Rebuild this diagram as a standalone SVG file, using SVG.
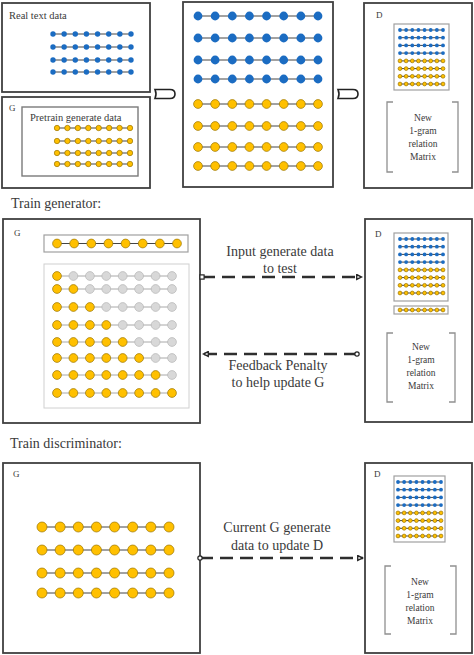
<svg xmlns="http://www.w3.org/2000/svg" width="474" height="655" viewBox="0 0 474 655">
<style>
.box{fill:#fff;stroke:#404040;stroke-width:1.8}
.mbox{fill:#fff;stroke:#a0a0a0;stroke-width:1.2}
.ibox{fill:#fff;stroke:#7a7a7a;stroke-width:1.4}
.gbox{fill:#fff;stroke:#d0d0d0;stroke-width:1}
.brk{fill:none;stroke:#909090;stroke-width:1.3}
.b{fill:#1b6cc2}
.o{fill:#ffc000;stroke:#9a7400;stroke-width:0.7}
.g{fill:#d8d8d8;stroke:#b4b4b4;stroke-width:0.7}
.cn{stroke:#444;stroke-width:1}
.cg{stroke:#a8a8a8;stroke-width:1}
.t{font-family:"Liberation Serif",serif;fill:#3a3a3a}
.lab{font-size:10.5px}
.sm{font-size:9px}
.mx{font-size:9.5px;text-anchor:middle}
.ttl{font-size:14px}
.al{font-size:14px;text-anchor:middle}
.sym{fill:#fff;stroke:#222;stroke-width:1.6}
.dash{fill:none;stroke:#2e2e2e;stroke-width:2.5;stroke-dasharray:13 7}
</style>
<defs>
<g id="r1b"><line class="cn" x1="0" y1="0" x2="78" y2="0"/><circle class="b" cx="0" cy="0" r="2.7"/><circle class="b" cx="11.14" cy="0" r="2.7"/><circle class="b" cx="22.29" cy="0" r="2.7"/><circle class="b" cx="33.43" cy="0" r="2.7"/><circle class="b" cx="44.57" cy="0" r="2.7"/><circle class="b" cx="55.71" cy="0" r="2.7"/><circle class="b" cx="66.86" cy="0" r="2.7"/><circle class="b" cx="78" cy="0" r="2.7"/></g>
<g id="r1o"><line class="cn" x1="0" y1="0" x2="73" y2="0"/><circle class="o" cx="0" cy="0" r="2.7"/><circle class="o" cx="10.43" cy="0" r="2.7"/><circle class="o" cx="20.86" cy="0" r="2.7"/><circle class="o" cx="31.29" cy="0" r="2.7"/><circle class="o" cx="41.71" cy="0" r="2.7"/><circle class="o" cx="52.14" cy="0" r="2.7"/><circle class="o" cx="62.57" cy="0" r="2.7"/><circle class="o" cx="73" cy="0" r="2.7"/></g>
<g id="r2b"><line class="cn" x1="0" y1="0" x2="120" y2="0"/><circle class="b" cx="0" cy="0" r="4.4"/><circle class="b" cx="17.14" cy="0" r="4.4"/><circle class="b" cx="34.29" cy="0" r="4.4"/><circle class="b" cx="51.43" cy="0" r="4.4"/><circle class="b" cx="68.57" cy="0" r="4.4"/><circle class="b" cx="85.71" cy="0" r="4.4"/><circle class="b" cx="102.86" cy="0" r="4.4"/><circle class="b" cx="120" cy="0" r="4.4"/></g>
<g id="r2o"><line class="cn" x1="0" y1="0" x2="120" y2="0"/><circle class="o" cx="0" cy="0" r="4.4"/><circle class="o" cx="17.14" cy="0" r="4.4"/><circle class="o" cx="34.29" cy="0" r="4.4"/><circle class="o" cx="51.43" cy="0" r="4.4"/><circle class="o" cx="68.57" cy="0" r="4.4"/><circle class="o" cx="85.71" cy="0" r="4.4"/><circle class="o" cx="102.86" cy="0" r="4.4"/><circle class="o" cx="120" cy="0" r="4.4"/></g>
<g id="r3b"><line class="cn" x1="0" y1="0" x2="43" y2="0" stroke-width="0.6"/><circle class="b" cx="0" cy="0" r="1.9"/><circle class="b" cx="6.14" cy="0" r="1.9"/><circle class="b" cx="12.29" cy="0" r="1.9"/><circle class="b" cx="18.43" cy="0" r="1.9"/><circle class="b" cx="24.57" cy="0" r="1.9"/><circle class="b" cx="30.71" cy="0" r="1.9"/><circle class="b" cx="36.86" cy="0" r="1.9"/><circle class="b" cx="43" cy="0" r="1.9"/></g>
<g id="r3o"><line class="cn" x1="0" y1="0" x2="43" y2="0" stroke-width="0.6"/><circle class="o" cx="0" cy="0" r="1.9"/><circle class="o" cx="6.14" cy="0" r="1.9"/><circle class="o" cx="12.29" cy="0" r="1.9"/><circle class="o" cx="18.43" cy="0" r="1.9"/><circle class="o" cx="24.57" cy="0" r="1.9"/><circle class="o" cx="30.71" cy="0" r="1.9"/><circle class="o" cx="36.86" cy="0" r="1.9"/><circle class="o" cx="43" cy="0" r="1.9"/></g>
<g id="r4o"><line class="cn" x1="0" y1="0" x2="127" y2="0"/><circle class="o" cx="0" cy="0" r="5"/><circle class="o" cx="18.14" cy="0" r="5"/><circle class="o" cx="36.29" cy="0" r="5"/><circle class="o" cx="54.43" cy="0" r="5"/><circle class="o" cx="72.57" cy="0" r="5"/><circle class="o" cx="90.71" cy="0" r="5"/><circle class="o" cx="108.86" cy="0" r="5"/><circle class="o" cx="127" cy="0" r="5"/></g>
<g id="mat"><use href="#r3b" x="0" y="0"/><use href="#r3b" x="0" y="7.7"/><use href="#r3b" x="0" y="15.4"/><use href="#r3b" x="0" y="23.1"/><use href="#r3o" x="0" y="30.9"/><use href="#r3o" x="0" y="38.6"/><use href="#r3o" x="0" y="46.3"/><use href="#r3o" x="0" y="54"/></g>
<path id="symb" d="M0,0 H15 Q20,0 20,4.5 Q20,9 15,9 H0 Q2,4.5 0,0 Z"/>
<marker id="tri" viewBox="0 0 10 10" refX="9" refY="5" markerWidth="7" markerHeight="7" markerUnits="userSpaceOnUse" orient="auto"><path d="M1.5,1.5 L8.5,5 L1.5,8.5 Z" fill="#fff" stroke="#222" stroke-width="2"/></marker>
<marker id="circ" viewBox="0 0 10 10" refX="5" refY="5" markerWidth="6" markerHeight="6" markerUnits="userSpaceOnUse" orient="auto"><circle cx="5" cy="5" r="3.6" fill="#fff" stroke="#222" stroke-width="2"/></marker>
<marker id="sq" viewBox="0 0 10 10" refX="5" refY="5" markerWidth="6" markerHeight="6" markerUnits="userSpaceOnUse" orient="auto"><rect x="1.5" y="1.5" width="7" height="7" fill="#fff" stroke="#222" stroke-width="2"/></marker>
</defs>
<rect width="474" height="655" fill="#fff"/>

<g id="node-real">
<rect class="box" x="2" y="3" width="148" height="89"/>
<text class="t lab" x="9" y="19">Real text data</text>
<use href="#r1b" x="53" y="34"/><use href="#r1b" x="53" y="47"/><use href="#r1b" x="53" y="60"/><use href="#r1b" x="53" y="72"/>
</g>
<g id="node-g-pretrain">
<rect class="box" x="2" y="97" width="148" height="91"/>
<text class="t sm" x="9" y="111">G</text>
<rect class="ibox" x="22" y="107" width="116" height="69"/>
<text class="t lab" x="30" y="121">Pretrain generate data</text>
<use href="#r1o" x="57" y="128"/><use href="#r1o" x="57" y="141"/><use href="#r1o" x="57" y="153"/><use href="#r1o" x="57" y="164"/>
</g>
<g id="node-mix">
<rect class="box" x="183" y="2" width="150" height="185"/>
<use href="#r2b" x="198" y="16"/><use href="#r2b" x="198" y="38"/><use href="#r2b" x="198" y="60"/><use href="#r2b" x="198" y="79"/>
<use href="#r2o" x="198" y="104"/><use href="#r2o" x="198" y="126"/><use href="#r2o" x="198" y="147"/><use href="#r2o" x="198" y="166"/>
</g>
<g id="node-d1">
<rect class="box" x="364" y="3" width="108" height="185"/>
<text class="t sm" x="376" y="18">D</text>
<rect class="mbox" x="394" y="24" width="55" height="66"/>
<use href="#mat" x="400" y="30"/>
<path class="brk" d="M393,102 H387 V172 H393 M452,102 H458 V172 H452"/>
<text class="t mx" x="423" y="121">New</text>
<text class="t mx" x="423" y="134">1-gram</text>
<text class="t mx" x="423" y="147">relation</text>
<text class="t mx" x="423" y="160">Matrix</text>
</g>

<text class="t ttl" x="11" y="208">Train generator:</text>

<g id="node-g2">
<rect class="box" x="3" y="219" width="197" height="204"/>
<text class="t sm" x="14" y="236">G</text>
<rect class="mbox" x="44" y="235" width="144" height="17"/>
<use href="#r2o" x="57" y="243.5"/>
<rect class="gbox" x="44" y="264" width="145" height="144"/>
<g>
<line class="cg" x1="57" y1="276" x2="172" y2="276"/><line class="cg" x1="57" y1="289" x2="172" y2="289"/><line class="cg" x1="57" y1="307" x2="172" y2="307"/><line class="cg" x1="57" y1="325" x2="172" y2="325"/><line class="cg" x1="57" y1="342" x2="172" y2="342"/><line class="cg" x1="57" y1="358" x2="172" y2="358"/><line class="cg" x1="57" y1="375" x2="172" y2="375"/><line class="cg" x1="57" y1="393" x2="172" y2="393"/>
<circle class="o" cx="57" cy="276" r="4.4"/><circle class="g" cx="73.4" cy="276" r="4.4"/><circle class="g" cx="89.9" cy="276" r="4.4"/><circle class="g" cx="106.3" cy="276" r="4.4"/><circle class="g" cx="122.7" cy="276" r="4.4"/><circle class="g" cx="139.1" cy="276" r="4.4"/><circle class="g" cx="155.6" cy="276" r="4.4"/><circle class="g" cx="172" cy="276" r="4.4"/>
<circle class="o" cx="57" cy="289" r="4.4"/><circle class="o" cx="73.4" cy="289" r="4.4"/><circle class="g" cx="89.9" cy="289" r="4.4"/><circle class="g" cx="106.3" cy="289" r="4.4"/><circle class="g" cx="122.7" cy="289" r="4.4"/><circle class="g" cx="139.1" cy="289" r="4.4"/><circle class="g" cx="155.6" cy="289" r="4.4"/><circle class="g" cx="172" cy="289" r="4.4"/>
<circle class="o" cx="57" cy="307" r="4.4"/><circle class="o" cx="73.4" cy="307" r="4.4"/><circle class="o" cx="89.9" cy="307" r="4.4"/><circle class="g" cx="106.3" cy="307" r="4.4"/><circle class="g" cx="122.7" cy="307" r="4.4"/><circle class="g" cx="139.1" cy="307" r="4.4"/><circle class="g" cx="155.6" cy="307" r="4.4"/><circle class="g" cx="172" cy="307" r="4.4"/>
<circle class="o" cx="57" cy="325" r="4.4"/><circle class="o" cx="73.4" cy="325" r="4.4"/><circle class="o" cx="89.9" cy="325" r="4.4"/><circle class="o" cx="106.3" cy="325" r="4.4"/><circle class="g" cx="122.7" cy="325" r="4.4"/><circle class="g" cx="139.1" cy="325" r="4.4"/><circle class="g" cx="155.6" cy="325" r="4.4"/><circle class="g" cx="172" cy="325" r="4.4"/>
<circle class="o" cx="57" cy="342" r="4.4"/><circle class="o" cx="73.4" cy="342" r="4.4"/><circle class="o" cx="89.9" cy="342" r="4.4"/><circle class="o" cx="106.3" cy="342" r="4.4"/><circle class="o" cx="122.7" cy="342" r="4.4"/><circle class="g" cx="139.1" cy="342" r="4.4"/><circle class="g" cx="155.6" cy="342" r="4.4"/><circle class="g" cx="172" cy="342" r="4.4"/>
<circle class="o" cx="57" cy="358" r="4.4"/><circle class="o" cx="73.4" cy="358" r="4.4"/><circle class="o" cx="89.9" cy="358" r="4.4"/><circle class="o" cx="106.3" cy="358" r="4.4"/><circle class="o" cx="122.7" cy="358" r="4.4"/><circle class="o" cx="139.1" cy="358" r="4.4"/><circle class="g" cx="155.6" cy="358" r="4.4"/><circle class="g" cx="172" cy="358" r="4.4"/>
<circle class="o" cx="57" cy="375" r="4.4"/><circle class="o" cx="73.4" cy="375" r="4.4"/><circle class="o" cx="89.9" cy="375" r="4.4"/><circle class="o" cx="106.3" cy="375" r="4.4"/><circle class="o" cx="122.7" cy="375" r="4.4"/><circle class="o" cx="139.1" cy="375" r="4.4"/><circle class="o" cx="155.6" cy="375" r="4.4"/><circle class="g" cx="172" cy="375" r="4.4"/>
<circle class="o" cx="57" cy="393" r="4.4"/><circle class="o" cx="73.4" cy="393" r="4.4"/><circle class="o" cx="89.9" cy="393" r="4.4"/><circle class="o" cx="106.3" cy="393" r="4.4"/><circle class="o" cx="122.7" cy="393" r="4.4"/><circle class="o" cx="139.1" cy="393" r="4.4"/><circle class="o" cx="155.6" cy="393" r="4.4"/><circle class="o" cx="172" cy="393" r="4.4"/>
</g>
</g>
<g id="node-d2">
<rect class="box" x="365" y="219" width="107" height="203"/>
<text class="t sm" x="375" y="237">D</text>
<rect class="mbox" x="394" y="233" width="54" height="68"/>
<use href="#mat" x="400" y="239"/>
<rect class="mbox" x="394" y="306" width="54" height="8"/>
<use href="#r3o" x="400" y="310"/>
<path class="brk" d="M393,333 H387 V402 H393 M449,333 H455 V402 H449"/>
<text class="t mx" x="421" y="350">New</text>
<text class="t mx" x="421" y="363">1-gram</text>
<text class="t mx" x="421" y="376">relation</text>
<text class="t mx" x="421" y="389">Matrix</text>
</g>

<text class="t ttl" x="10" y="448">Train discriminator:</text>

<g id="node-g3">
<rect class="box" x="3" y="463" width="197" height="190"/>
<text class="t sm" x="13" y="477">G</text>
<use href="#r4o" x="42" y="527"/><use href="#r4o" x="42" y="550"/><use href="#r4o" x="42" y="573"/><use href="#r4o" x="42" y="593"/>
</g>
<g id="node-d3">
<rect class="box" x="365" y="463" width="107" height="190"/>
<text class="t sm" x="374" y="477">D</text>
<rect class="mbox" x="394" y="476" width="51" height="66"/>
<use href="#mat" x="398" y="482"/>
<path class="brk" d="M391,566 H385 V634 H391 M450,566 H456 V634 H450"/>
<text class="t mx" x="420" y="585">New</text>
<text class="t mx" x="420" y="598">1-gram</text>
<text class="t mx" x="420" y="611">relation</text>
<text class="t mx" x="420" y="624">Matrix</text>
</g>

<g id="connectors">
<use href="#symb" class="sym" x="155" y="89.5"/>
<use href="#symb" class="sym" x="338" y="89.5"/>
<line class="dash" x1="202" y1="277" x2="362" y2="277" marker-start="url(#sq)" marker-end="url(#tri)"/>
<line class="dash" x1="357" y1="354" x2="203" y2="354" marker-start="url(#circ)" marker-end="url(#tri)"/>
<line class="dash" x1="200" y1="558" x2="363" y2="558" marker-start="url(#circ)" marker-end="url(#tri)"/>
<text class="t al" x="280" y="256">Input generate data</text>
<text class="t al" x="280" y="273">to test</text>
<text class="t al" x="278" y="370">Feedback Penalty</text>
<text class="t al" x="278" y="387">to help update G</text>
<text class="t al" x="277" y="532">Current G generate</text>
<text class="t al" x="277" y="550">data to update D</text>
</g>
</svg>
